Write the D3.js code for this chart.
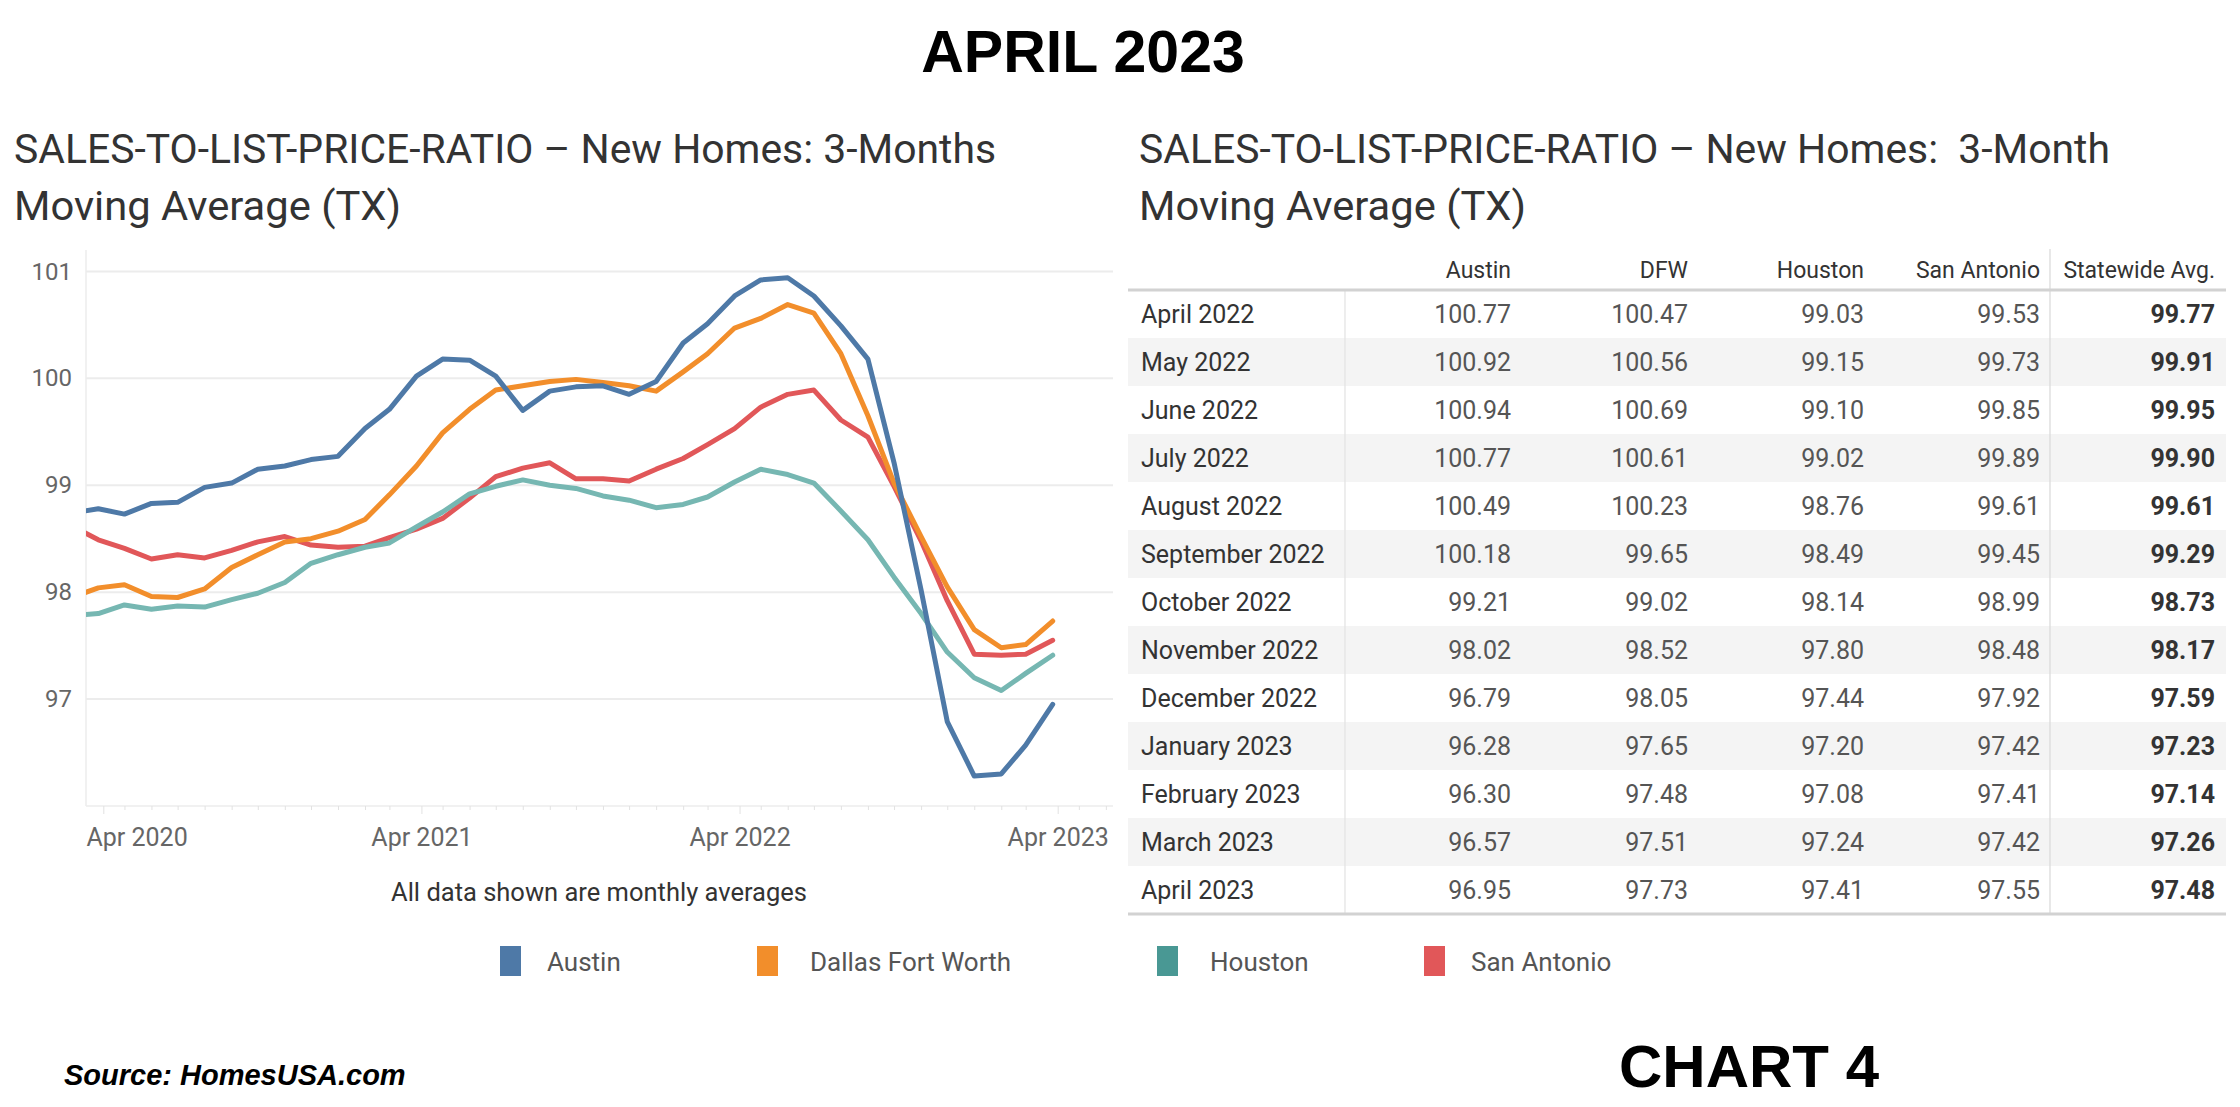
<!DOCTYPE html>
<html lang="en">
<head>
  <meta charset="UTF-8">
  <title>Sales-to-List-Price Ratio – April 2023</title>
  <script src="https://d3js.org/d3.v7.min.js"></script>
  <style>
    body { margin: 0; background: #fff; }
    .big { font-family: "Liberation Sans", Arial, sans-serif; font-weight: bold; fill: #000; }
    .title { font-family: Roboto, sans-serif; font-size: 41px; fill: #333; white-space: pre; }
    .axis text { font-family: Roboto, sans-serif; font-size: 24px; fill: #666; }
    .axis line { stroke: #e2e2e2; }
    .caption { font-family: Roboto, sans-serif; font-size: 25.5px; fill: #333; }
    .legend { font-family: Roboto, sans-serif; font-size: 26px; fill: #555; }
    .th { font-family: Roboto, sans-serif; font-size: 23px; fill: #333; text-anchor: end; }
    .rowlabel { font-family: Roboto, sans-serif; font-size: 25px; fill: #333; }
    .cell { font-family: Roboto, sans-serif; font-size: 25px; fill: #555; text-anchor: end; }
    .cell.avg { font-weight: bold; fill: #333; }
  </style>
</head>
<body>
  <div id="chart"></div>

  <script>
    // monthly series, Mar 2020 .. Apr 2023 (Mar 2020 is clipped at the axis edge)
    const austin = [98.74, 98.78, 98.73, 98.83, 98.84, 98.98, 99.02, 99.15, 99.18, 99.24,
      99.27, 99.53, 99.71, 100.02, 100.18, 100.17, 100.02, 99.70, 99.88, 99.92, 99.93, 99.85,
      99.97, 100.33, 100.51, 100.77, 100.92, 100.94, 100.77, 100.49, 100.18, 99.21, 98.02, 96.79,
      96.28, 96.30, 96.57, 96.95];
    const dfw = [97.95, 98.04, 98.07, 97.96, 97.95, 98.03, 98.23, 98.35, 98.47, 98.50,
      98.57, 98.68, 98.91, 99.18, 99.49, 99.71, 99.89, 99.93, 99.97, 99.99, 99.96, 99.93,
      99.88, 100.06, 100.23, 100.47, 100.56, 100.69, 100.61, 100.23, 99.65, 99.02, 98.52, 98.05,
      97.65, 97.48, 97.51, 97.73];
    const houston = [97.78, 97.80, 97.88, 97.84, 97.87, 97.86, 97.93, 97.99, 98.09, 98.27,
      98.35, 98.42, 98.46, 98.61, 98.75, 98.92, 98.99, 99.05, 99.00, 98.97, 98.90, 98.86,
      98.79, 98.82, 98.89, 99.03, 99.15, 99.10, 99.02, 98.76, 98.49, 98.14, 97.80, 97.44,
      97.20, 97.08, 97.24, 97.41];
    const sanAntonio = [98.62, 98.49, 98.41, 98.31, 98.35, 98.32, 98.39, 98.47, 98.52, 98.44,
      98.42, 98.43, 98.51, 98.59, 98.69, 98.88, 99.08, 99.16, 99.21, 99.06, 99.06, 99.04,
      99.15, 99.25, 99.38, 99.53, 99.73, 99.85, 99.89, 99.61, 99.45, 98.99, 98.48, 97.92,
      97.42, 97.41, 97.42, 97.55];
    const statewide = [99.77, 99.91, 99.95, 99.90, 99.61, 99.29, 98.73, 98.17, 97.59, 97.23, 97.14, 97.26, 97.48];

    const seriesNames = ["Austin", "Dallas Fort Worth", "Houston", "San Antonio"];
    const lineColors = ["#4e79a7", "#f28e2b", "#76b7b2", "#e15759"];
    const swatchColors = ["#4e79a7", "#f28e2b", "#499894", "#e15759"];

    const yTicks = [97, 98, 99, 100, 101];
    const xTickLabels = ["Apr 2020", "Apr 2021", "Apr 2022", "Apr 2023"];

    const tableMonths = ["April 2022", "May 2022", "June 2022", "July 2022", "August 2022",
      "September 2022", "October 2022", "November 2022", "December 2022", "January 2023",
      "February 2023", "March 2023", "April 2023"];
    const tableCols = ["Austin", "DFW", "Houston", "San Antonio", "Statewide Avg."];

    const months = d3.timeMonth.range(new Date(2020, 2, 1), new Date(2023, 4, 1));
    const W = 2240, H = 1107;

    const svg = d3.select("#chart").append("svg")
      .attr("width", W).attr("height", H);
    svg.append("rect").attr("width", W).attr("height", H).attr("fill", "#fff");

    svg.append("text").attr("class", "big")
      .attr("x", 1083).attr("y", 72).attr("text-anchor", "middle")
      .style("font-size", "59px").text("APRIL 2023");

    // titles (widths fitted to the reference lines)
    const leftTitle = ["SALES-TO-LIST-PRICE-RATIO – New Homes: 3-Months", "Moving Average (TX)"];
    const rightTitle = ["SALES-TO-LIST-PRICE-RATIO – New Homes:  3-Month", "Moving Average (TX)"];
    const leftW = [982, 387], rightW = [971, 387];
    leftTitle.forEach((t, i) => svg.append("text").attr("class", "title")
      .attr("x", 14).attr("y", 163 + i * 57)
      .attr("textLength", leftW[i]).attr("lengthAdjust", "spacingAndGlyphs").text(t));
    rightTitle.forEach((t, i) => svg.append("text").attr("class", "title")
      .attr("x", 1139).attr("y", 163 + i * 57)
      .attr("textLength", rightW[i]).attr("lengthAdjust", "spacingAndGlyphs").text(t));

    // ---- line chart ----
    const plot = { left: 86, right: 1113, top: 250, bottom: 806 };

    const x = d3.scaleTime()
      .domain([new Date(2020, 3, 1), new Date(2023, 3, 1)])
      .range([98.3, 1052.7]);
    const y = d3.scaleLinear()
      .domain([96.0, 101.2])
      .range([plot.bottom, plot.top]);

    const g = svg.append("g");

    g.selectAll(".grid")
      .data(yTicks)
      .enter().append("line")
      .attr("x1", plot.left).attr("x2", plot.right)
      .attr("y1", d => y(d)).attr("y2", d => y(d))
      .attr("stroke", "#ececec").attr("stroke-width", 2);

    g.append("line")
      .attr("x1", plot.left).attr("x2", plot.left)
      .attr("y1", plot.top).attr("y2", plot.bottom)
      .attr("stroke", "#ececec").attr("stroke-width", 1.5);
    g.append("line")
      .attr("x1", plot.left).attr("x2", plot.right)
      .attr("y1", plot.bottom).attr("y2", plot.bottom)
      .attr("stroke", "#ececec").attr("stroke-width", 1.5);

    const yAxis = g.append("g").attr("class", "axis")
      .attr("transform", `translate(${plot.left},0)`)
      .call(d3.axisLeft(y).tickValues(yTicks).tickSize(0).tickPadding(14).tickFormat(d3.format("d")));
    yAxis.select(".domain").remove();

    // monthly minor ticks
    const minor = g.append("g").attr("class", "axis")
      .attr("transform", `translate(0,${plot.bottom})`)
      .call(d3.axisBottom(x)
        .tickValues(d3.timeMonth.range(new Date(2020, 4, 1), new Date(2023, 6, 1)).filter(d => d.getMonth() !== 3))
        .tickSize(4).tickFormat(""));
    minor.select(".domain").remove();

    const aprils = [new Date(2020, 3, 1), new Date(2021, 3, 1), new Date(2022, 3, 1), new Date(2023, 3, 1)];
    const xAxis = g.append("g").attr("class", "axis")
      .attr("transform", `translate(5,${plot.bottom})`)
      .call(d3.axisBottom(x).tickValues(aprils).tickSize(8).tickPadding(14)
        .tickFormat((d, i) => xTickLabels[i]));
    xAxis.select(".domain").remove();
    xAxis.selectAll(".tick text").style("font-size", "25px");
    xAxis.select(".tick text")
      .attr("text-anchor", "start")
      .attr("x", plot.left - (x(aprils[0]) + 5));

    svg.append("clipPath").attr("id", "plotclip")
      .append("rect")
      .attr("x", plot.left).attr("y", plot.top)
      .attr("width", plot.right - plot.left).attr("height", plot.bottom - plot.top);

    const allSeries = [austin, dfw, houston, sanAntonio];
    const line = d3.line()
      .x((d, i) => x(months[i]))
      .y(d => y(d));

    const drawOrder = [3, 2, 1, 0];
    g.append("g").attr("clip-path", "url(#plotclip)")
      .selectAll("path")
      .data(drawOrder)
      .enter().append("path")
      .attr("d", k => line(allSeries[k]))
      .attr("fill", "none")
      .attr("stroke", k => lineColors[k])
      .attr("stroke-width", 5)
      .attr("stroke-linejoin", "round")
      .attr("stroke-linecap", "round");

    svg.append("text").attr("class", "caption")
      .attr("x", 599).attr("y", 901).attr("text-anchor", "middle")
      .text("All data shown are monthly averages");

    // legend
    const legendX = [500, 757, 1157, 1424];
    const legendGap = [47, 53, 53, 47];
    const leg = svg.selectAll(".leg")
      .data(seriesNames)
      .enter().append("g")
      .attr("transform", (d, i) => `translate(${legendX[i]},946)`);
    leg.append("rect")
      .attr("width", 21).attr("height", 30)
      .attr("fill", (d, i) => swatchColors[i]);
    leg.append("text").attr("class", "legend")
      .attr("x", (d, i) => legendGap[i]).attr("y", 25)
      .text(d => d);

    // ---- table ----
    const tbl = { left: 1128, right: 2226, headTop: 249, top: 290, bottom: 914, labelX: 1141 };
    const colRight = [1511, 1688, 1864, 2040, 2215];
    const rowY = d3.scaleBand().domain(tableMonths).range([tbl.top, tbl.bottom]);
    const t = svg.append("g");

    t.selectAll(".band")
      .data(tableMonths.filter((d, i) => i % 2 === 1))
      .enter().append("rect")
      .attr("x", tbl.left).attr("width", tbl.right - tbl.left)
      .attr("y", d => rowY(d)).attr("height", rowY.bandwidth())
      .attr("fill", "#f4f4f4");

    t.append("line").attr("x1", 1345).attr("x2", 1345)
      .attr("y1", tbl.top).attr("y2", tbl.bottom)
      .attr("stroke", "#e2e2e2").attr("stroke-width", 1.2);
    t.append("line").attr("x1", 2050).attr("x2", 2050)
      .attr("y1", tbl.headTop).attr("y2", tbl.bottom)
      .attr("stroke", "#d8d8d8").attr("stroke-width", 1.2);
    [tbl.top, tbl.bottom].forEach(yy => t.append("line")
      .attr("x1", tbl.left).attr("x2", tbl.right)
      .attr("y1", yy).attr("y2", yy)
      .attr("stroke", "#d2d2d2").attr("stroke-width", 3));

    t.selectAll(".th")
      .data(tableCols)
      .enter().append("text").attr("class", "th")
      .attr("x", (d, i) => colRight[i]).attr("y", 278)
      .text(d => d);

    t.selectAll(".rowlabel")
      .data(tableMonths)
      .enter().append("text").attr("class", "rowlabel")
      .attr("x", tbl.labelX)
      .attr("y", d => rowY(d) + rowY.bandwidth() / 2 + 9)
      .text(d => d);

    const n = austin.length, k0 = n - tableMonths.length;
    const tableCells = [];
    tableMonths.forEach((m, r) => {
      [austin, dfw, houston, sanAntonio].forEach((s, c) => tableCells.push({ m, c, v: s[k0 + r] }));
      tableCells.push({ m, c: 4, v: statewide[r] });
    });
    t.selectAll(".cell")
      .data(tableCells)
      .enter().append("text")
      .attr("class", d => d.c === 4 ? "cell avg" : "cell")
      .attr("x", d => colRight[d.c])
      .attr("y", d => rowY(d.m) + rowY.bandwidth() / 2 + 9)
      .text(d => d3.format(".2f")(d.v));

    // footer
    svg.append("text").attr("class", "big")
      .attr("x", 64).attr("y", 1085)
      .style("font-size", "29px").style("font-style", "italic")
      .text("Source: HomesUSA.com");
    svg.append("text").attr("class", "big")
      .attr("x", 1619).attr("y", 1087)
      .style("font-size", "60px")
      .text("CHART 4");
  </script>
</body>
</html>
